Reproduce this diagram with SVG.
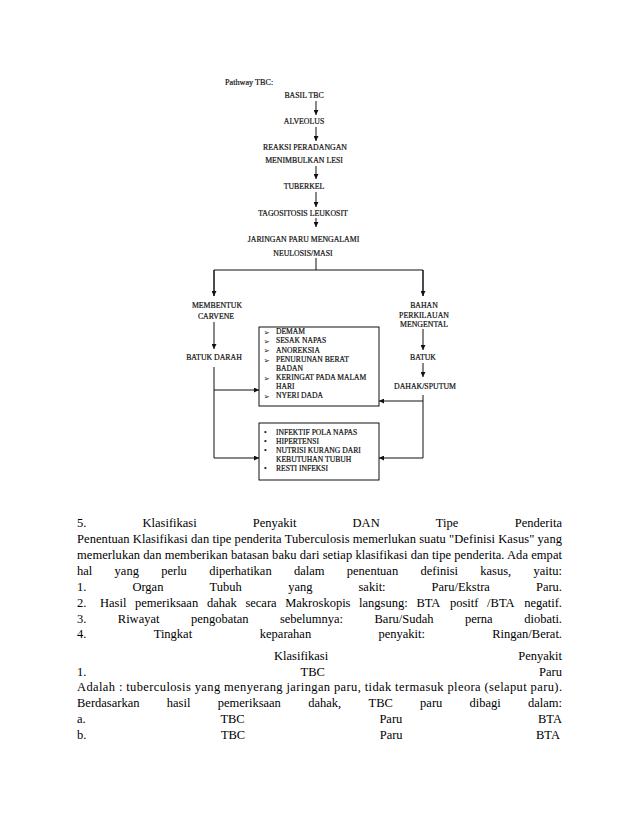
<svg xmlns="http://www.w3.org/2000/svg" width="638" height="826" viewBox="0 0 638 826">
<style>
.d{font-family:"Liberation Serif","Times New Roman",serif;font-size:7.8px;fill:#111;stroke:#111;stroke-width:0.2px;}
.c{text-anchor:middle;}
.b{font-family:"Liberation Serif","Times New Roman",serif;font-size:7.6px;fill:#111;stroke:#111;stroke-width:0.2px;}
.bul{font-family:"DejaVu Sans",sans-serif;font-size:7.5px;fill:#111;}
.t{font-family:"Liberation Serif","Times New Roman",serif;font-size:12.5px;fill:#000;}
.e{text-anchor:end;}
.ln{stroke:#111;stroke-width:1;fill:none;}
.bx{stroke:#111;stroke-width:1;fill:#fff;}
</style>
<defs>
<marker id="ah" viewBox="0 0 10 10" refX="10" refY="5" markerWidth="5" markerHeight="5" orient="auto" markerUnits="userSpaceOnUse">
<path d="M0,0 L10,5 L0,10 z" fill="#111"/>
</marker>
</defs>
<rect width="638" height="826" fill="#fff"/>

<text class="d" x="225" y="85" style="font-size:8.2px">Pathway TBC:</text>

<g id="connectors" class="ln">
<line x1="316" y1="101" x2="316" y2="115" marker-end="url(#ah)"/>
<line x1="316" y1="127" x2="316" y2="141" marker-end="url(#ah)"/>
<line x1="316" y1="166" x2="316" y2="179" marker-end="url(#ah)"/>
<line x1="316" y1="192" x2="316" y2="207" marker-end="url(#ah)"/>
<line x1="316" y1="218" x2="316" y2="227" marker-end="url(#ah)"/>
<polyline points="316,258 316,270"/>
<polyline points="214,296 214,270 423,270 423,296"/>
<line x1="214" y1="270" x2="214" y2="296" marker-end="url(#ah)"/>
<line x1="423" y1="270" x2="423" y2="296" marker-end="url(#ah)"/>
<line x1="214" y1="322" x2="214" y2="349" marker-end="url(#ah)"/>
<line x1="423" y1="329" x2="423" y2="350" marker-end="url(#ah)"/>
<line x1="423" y1="363" x2="423" y2="377" marker-end="url(#ah)"/>
<polyline points="214,367 214,458"/>
<line x1="214" y1="390" x2="259" y2="390" marker-end="url(#ah)"/>
<line x1="214" y1="458" x2="259" y2="458" marker-end="url(#ah)"/>
<polyline points="423,395 423,458"/>
<line x1="423" y1="401" x2="379" y2="401" marker-end="url(#ah)"/>
<line x1="423" y1="458" x2="379" y2="458" marker-end="url(#ah)"/>
</g>

<g id="n_basil"><text class="d c" x="304" y="98">BASIL TBC</text></g>
<g id="n_alveolus"><text class="d c" x="304" y="124">ALVEOLUS</text></g>
<g id="n_reaksi"><text class="d c" x="305" y="150">REAKSI PERADANGAN</text><text class="d c" x="304" y="162.5">MENIMBULKAN LESI</text></g>
<g id="n_tuberkel"><text class="d c" x="304" y="188.5">TUBERKEL</text></g>
<g id="n_tagositosis"><text class="d c" x="303" y="216">TAGOSITOSIS LEUKOSIT</text></g>
<g id="n_jaringan"><text class="d c" x="303.5" y="241.5">JARINGAN PARU MENGALAMI</text><text class="d c" x="303" y="255.5">NEULOSIS/MASI</text></g>
<g id="n_membentuk"><text class="d c" x="217" y="308">MEMBENTUK</text><text class="d c" x="216" y="319">CARVENE</text></g>
<g id="n_bahan"><text class="d c" x="424" y="308">BAHAN</text><text class="d c" x="424" y="317.5">PERKILAUAN</text><text class="d c" x="424" y="327">MENGENTAL</text></g>
<g id="n_batukdarah"><text class="d c" x="214" y="360">BATUK DARAH</text></g>
<g id="n_batuk"><text class="d c" x="423" y="360">BATUK</text></g>
<g id="n_dahak"><text class="d c" x="425" y="389">DAHAK/SPUTUM</text></g>

<g id="n_gejala">
<rect class="bx" x="259" y="327" width="120" height="79"/>
<text class="bul" x="263.5" y="334.5">➢</text><text class="b" x="276" y="334">DEMAM</text>
<text class="bul" x="263.5" y="343.5">➢</text><text class="b" x="276" y="343">SESAK NAPAS</text>
<text class="bul" x="263.5" y="353">➢</text><text class="b" x="276" y="352.5">ANOREKSIA</text>
<text class="bul" x="263.5" y="362.5">➢</text><text class="b" x="276" y="362">PENURUNAN BERAT</text>
<text class="b" x="276" y="371">BADAN</text>
<text class="bul" x="263.5" y="380.5">➢</text><text class="b" x="276" y="380">KERINGAT PADA MALAM</text>
<text class="b" x="276" y="389">HARI</text>
<text class="bul" x="263.5" y="398.5">➢</text><text class="b" x="276" y="398">NYERI DADA</text>
</g>

<g id="n_diagnosa">
<rect class="bx" x="259" y="423" width="120" height="57"/>
<text class="b" x="264" y="435">•</text><text class="b" x="276" y="435">INFEKTIF POLA NAPAS</text>
<text class="b" x="264" y="443.5">•</text><text class="b" x="276" y="443.5">HIPERTENSI</text>
<text class="b" x="264" y="452.5">•</text><text class="b" x="276" y="452.5">NUTRISI KURANG DARI</text>
<text class="b" x="276" y="461.5">KEBUTUHAN TUBUH</text>
<text class="b" x="264" y="470.5">•</text><text class="b" x="276" y="470.5">RESTI INFEKSI</text>
</g>

<g id="body">
<text class="t" y="527"><tspan x="77">5.</tspan><tspan x="142.5">Klasifikasi</tspan><tspan x="252.8">Penyakit</tspan><tspan x="352.6">DAN</tspan><tspan x="435.8">Tipe</tspan><tspan x="562" text-anchor="end">Penderita</tspan></text>
<text class="t" x="77" y="543" textLength="485" lengthAdjust="spacing">Penentuan Klasifikasi dan tipe penderita Tuberculosis memerlukan suatu "Definisi Kasus" yang</text>
<text class="t" x="77" y="559" textLength="485" lengthAdjust="spacing">memerlukan dan memberikan batasan baku dari setiap klasifikasi dan tipe penderita. Ada empat</text>
<text class="t" y="575"><tspan x="77">hal</tspan><tspan x="114.6">yang</tspan><tspan x="161.2">perlu</tspan><tspan x="209.2">diperhatikan</tspan><tspan x="294">dalam</tspan><tspan x="346.8">penentuan</tspan><tspan x="420.5">definisi</tspan><tspan x="480.3">kasus,</tspan><tspan x="562" text-anchor="end">yaitu:</tspan></text>
<text class="t" y="591"><tspan x="77">1.</tspan><tspan x="132.4">Organ</tspan><tspan x="209.6">Tubuh</tspan><tspan x="288.2">yang</tspan><tspan x="358.5">sakit:</tspan><tspan x="431.6">Paru/Ekstra</tspan><tspan x="562" text-anchor="end">Paru.</tspan></text>
<text class="t" y="607"><tspan x="77">2.</tspan><tspan x="100">Hasil</tspan><tspan x="135">pemeriksaan</tspan><tspan x="206.9">dahak</tspan><tspan x="245.4">secara</tspan><tspan x="285.2">Makroskopis</tspan><tspan x="359.1">langsung:</tspan><tspan x="416.4">BTA</tspan><tspan x="450">positf</tspan><tspan x="487.1">/BTA</tspan><tspan x="562" text-anchor="end">negatif.</tspan></text>
<text class="t" y="622.5"><tspan x="77">3.</tspan><tspan x="117.8">Riwayat</tspan><tspan x="190.9">pengobatan</tspan><tspan x="279.9">sebelumnya:</tspan><tspan x="374.5">Baru/Sudah</tspan><tspan x="464.9">perna</tspan><tspan x="562" text-anchor="end">diobati.</tspan></text>
<text class="t" y="638"><tspan x="77">4.</tspan><tspan x="153.7">Tingkat</tspan><tspan x="259.8">keparahan</tspan><tspan x="378.5">penyakit:</tspan><tspan x="562" text-anchor="end">Ringan/Berat.</tspan></text>

<text class="t" y="660"><tspan x="274">Klasifikasi</tspan><tspan x="562" text-anchor="end">Penyakit</tspan></text>
<text class="t" y="675.5"><tspan x="77">1.</tspan><tspan x="300.6">TBC</tspan><tspan x="562" text-anchor="end">Paru</tspan></text>
<text class="t" x="77" y="691" textLength="485" lengthAdjust="spacing">Adalah : tuberculosis yang menyerang jaringan paru, tidak termasuk pleora (selaput paru).</text>
<text class="t" y="707"><tspan x="77">Berdasarkan</tspan><tspan x="166.8">hasil</tspan><tspan x="217.7">pemeriksaan</tspan><tspan x="308.2">dahak,</tspan><tspan x="368.5">TBC</tspan><tspan x="420.1">paru</tspan><tspan x="469.6">dibagi</tspan><tspan x="562" text-anchor="end">dalam:</tspan></text>
<text class="t" y="723"><tspan x="77">a.</tspan><tspan x="220.4">TBC</tspan><tspan x="379.4">Paru</tspan><tspan x="562" text-anchor="end">BTA</tspan></text>
<text class="t" y="739"><tspan x="77">b.</tspan><tspan x="220.9">TBC</tspan><tspan x="379.7">Paru</tspan><tspan x="560" text-anchor="end">BTA</tspan></text>
</g>
</svg>
